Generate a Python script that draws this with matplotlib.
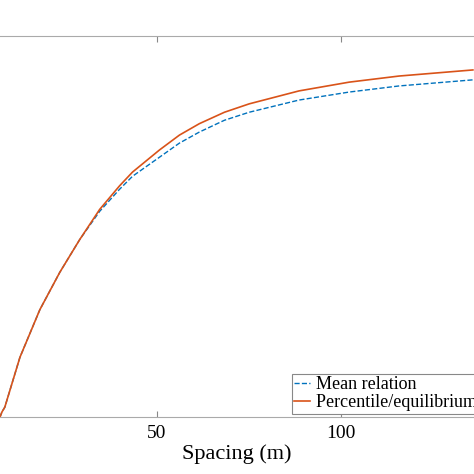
import matplotlib
matplotlib.use("Agg")
import matplotlib.pyplot as plt

plt.rcParams['font.family'] = ['Liberation Serif', 'DejaVu Serif']

spacing = [7.6, 8.1, 8.9, 13.0, 18.4, 23.8, 29.2, 34.6, 40.0, 43.5, 50.8, 56.2, 61.6, 68.4, 75.1, 88.6, 102.2, 115.7, 135.7]
percentile = [0.0, 0.013, 0.026, 0.157, 0.282, 0.380, 0.466, 0.545, 0.607, 0.643, 0.701, 0.740, 0.770, 0.800, 0.822, 0.856, 0.879, 0.895, 0.911]
mean_rel = [0.0, 0.013, 0.026, 0.157, 0.282, 0.380, 0.466, 0.540, 0.598, 0.632, 0.682, 0.719, 0.748, 0.779, 0.800, 0.832, 0.853, 0.869, 0.885]
xticks = [50, 100]

fig = plt.figure(figsize=(4.74, 4.74), dpi=100)
ax = fig.add_axes([0.0, 0.120, 1.0, 0.804])
ax.plot(spacing, mean_rel, '--', color='#0072BD', lw=1.0, label='Mean relation')
ax.plot(spacing, percentile, '-', color='#D95319', lw=1.2, label='Percentile/equilibrium relation')
ax.set_xlim(7.6, 136)
ax.set_ylim(0, 1)
ax.set_xticks(xticks)
ax.set_yticks([])
ax.tick_params(axis='x', direction='in', length=4, labelsize=14, color='#888888', top=True, pad=6)
for s in ['left', 'right']:
    ax.spines[s].set_visible(False)
for s in ['top', 'bottom']:
    ax.spines[s].set_color('#aaaaaa')
ax.set_xlabel('Spacing (m)', fontsize=16, labelpad=1)
leg = ax.legend(loc='lower left', bbox_to_anchor=(0.615, 0.008), fontsize=13,
                handlelength=0.9, handletextpad=0.3, borderpad=0.15, labelspacing=0.05,
                borderaxespad=0, fancybox=False, framealpha=1, edgecolor='#888888')
leg.get_frame().set_linewidth(0.8)
fig.savefig('out.png', dpi=100)
